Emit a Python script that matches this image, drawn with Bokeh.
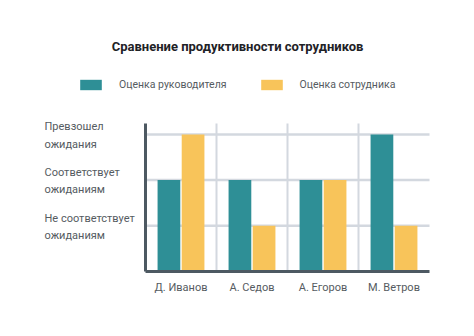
from bokeh.plotting import figure
from bokeh.models import (ColumnDataSource, Range1d, FixedTicker, LabelSet, Label, Legend,
                          LegendItem, LinearAxis)
from bokeh.core.properties import value
from bokeh.embed import file_html
from bokeh.resources import INLINE

title_text = "Сравнение продуктивности сотрудников"
employees = ["Д. Иванов", "А. Седов", "А. Егоров", "М. Ветров"]
manager_score = [2, 2, 2, 3]
employee_score = [3, 1, 2, 1]
series_names = ["Оценка руководителя", "Оценка сотрудника"]
levels = [1, 2, 3]
level_labels = ["Не соответствует\nожиданиям", "Соответствует\nожиданиям", "Превзошел\nожидания"]

TEAL = "#2e8f96"
YELLOW = "#f8c45a"
FONT = "Roboto"
GREY = "#555b61"
GRID = "#d3d8df"
AXIS = "#4d5962"

W, H = 474, 336
# chart area in pixels: x 0..4 -> 145..429, y 0..3 -> 271..134
PX_X = 71.0
PX_Y = 45.7
X0, Y0 = 145, 271
N = len(employees)
YTOP = 3.24

centers = [i + 0.5 for i in range(N)]
src = ColumnDataSource(dict(
    xm=[c - 0.17 for c in centers],
    xe=[c + 0.17 for c in centers],
    m=manager_score,
    e=employee_score,
))

p = figure(width=W, height=H, output_backend="svg", toolbar_location=None,
           x_range=Range1d(-X0 / PX_X, (W - X0) / PX_X),
           y_range=Range1d(-(H - Y0) / PX_Y, Y0 / PX_Y),
           x_axis_location=None, y_axis_location=None)
p.min_border = 0
p.min_border_left = 0
p.min_border_right = 0
p.min_border_top = 0
p.min_border_bottom = 0
p.outline_line_color = None
p.background_fill_color = "white"
p.border_fill_color = "white"
for g in list(p.grid):
    g.visible = False

# grid lines limited to the chart area
hsrc = ColumnDataSource(dict(x0=[0] * len(levels), x1=[N] * len(levels), y=levels))
p.segment(x0="x0", y0="y", x1="x1", y1="y", source=hsrc, line_color=GRID, line_width=2.5)
vticks = list(range(1, N))
vsrc = ColumnDataSource(dict(x=vticks, y0=[0] * len(vticks), y1=[YTOP] * len(vticks)))
p.segment(x0="x", y0="y0", x1="x", y1="y1", source=vsrc, line_color=GRID, line_width=2)

rm = p.vbar(x="xm", top="m", width=0.32, source=src, fill_color=TEAL, line_color=None)
re = p.vbar(x="xe", top="e", width=0.32, source=src, fill_color=YELLOW, line_color=None)

# axes fixed at the chart origin
xaxis = LinearAxis(fixed_location=0, bounds=(0, N), ticker=FixedTicker(ticks=centers),
                   major_label_overrides={c: n for c, n in zip(centers, employees)},
                   major_tick_line_color=None, minor_tick_line_color=None,
                   axis_line_color=AXIS, axis_line_width=3,
                   major_label_text_font=FONT, major_label_text_font_size="11px",
                   major_label_text_color=GREY, major_label_standoff=3)
yaxis = LinearAxis(fixed_location=0, bounds=(0, YTOP), ticker=FixedTicker(ticks=levels),
                   major_label_text_font_size="0px", major_label_text_alpha=0,
                   major_tick_line_color=None, minor_tick_line_color=None,
                   axis_line_color=AXIS, axis_line_width=3)
p.add_layout(xaxis, "below")
p.add_layout(yaxis, "left")

# y level labels (left aligned, multi-line)
lsrc = ColumnDataSource(dict(x=[0] * len(levels), y=levels, t=level_labels))
ls = LabelSet(x="x", y="y", text="t", source=lsrc, x_offset=44 - X0, y_offset=-1,
              text_align="left", text_baseline="middle",
              text_font=value(FONT), text_font_size="11px", text_color=GREY,
              text_line_height=1.35)
p.add_layout(ls)

# title
p.add_layout(Label(x=237, y=H - 46, x_units="screen", y_units="screen",
                   text=title_text, text_align="center", text_baseline="middle",
                   text_font=FONT, text_font_size="13px", text_font_style="bold",
                   text_color="#1e2226"))

legend = Legend(items=[LegendItem(label=series_names[0], renderers=[rm]),
                       LegendItem(label=series_names[1], renderers=[re])],
                orientation="horizontal", location=(77, H - 91),
                glyph_width=27, glyph_height=13, label_standoff=15, spacing=31,
                padding=0, margin=0, border_line_color=None, background_fill_alpha=0,
                label_text_font=FONT, label_text_font_size="10.5px", label_text_color=GREY)
p.add_layout(legend, "center")

open("out.html", "w").write(file_html(p, INLINE))
